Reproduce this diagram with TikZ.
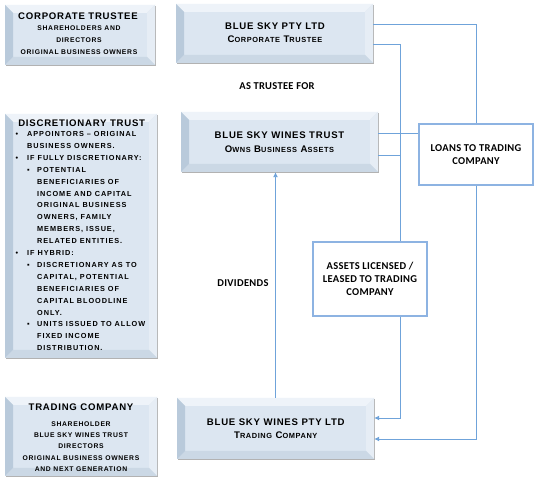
\documentclass[tikz,border=0pt]{standalone}
\usepackage{fontspec}
\setmainfont{Liberation Sans}
\newfontfamily\hfnt[LetterSpace=8]{Liberation Sans}
\newfontfamily\bfnt[LetterSpace=10]{Liberation Sans}
\newfontfamily\lfnt[LetterSpace=13]{Liberation Sans}
\newfontfamily\cfnt[LetterSpace=3]{Carlito}
\usetikzlibrary{shadows,arrows.meta}
\definecolor{bevfill}{HTML}{DCE6F1}
\definecolor{bevleft}{HTML}{B9CADB}
\definecolor{bevtop}{HTML}{EEF3F9}
\definecolor{bevright}{HTML}{E6EDF5}
\definecolor{bevbot}{HTML}{CBD8E5}
\definecolor{linec}{HTML}{6FA3DA}
\definecolor{boxline}{HTML}{8DB3E2}
\newcommand\SCx[2]{#1{\fontsize{7.4}{8}\selectfont #2}}
\tikzset{
  bevelbox/.style={fill=bevfill, draw=none, inner sep=0pt,
    drop shadow={shadow xshift=1pt, shadow yshift=-1.5pt, fill=black, opacity=0.3},
    path picture={
      \path (path picture bounding box.north west) coordinate (bNW)
            (path picture bounding box.north east) coordinate (bNE)
            (path picture bounding box.south east) coordinate (bSE)
            (path picture bounding box.south west) coordinate (bSW);
      \path ([shift={(8pt,-8pt)}]bNW) coordinate (iNW)
            ([shift={(-8pt,-8pt)}]bNE) coordinate (iNE)
            ([shift={(-8pt,8pt)}]bSE) coordinate (iSE)
            ([shift={(8pt,8pt)}]bSW) coordinate (iSW);
      \fill[bevtop] (bNW) -- (bNE) -- (iNE) -- (iNW) -- cycle;
      \fill[bevright] (bNE) -- (bSE) -- (iSE) -- (iNE) -- cycle;
      \fill[bevbot] (bSE) -- (bSW) -- (iSW) -- (iSE) -- cycle;
      \fill[bevleft] (bSW) -- (bNW) -- (iNW) -- (iSW) -- cycle;
    }},
  plainbox/.style={fill=white, draw=boxline, line width=1.2pt, inner sep=0pt,
    drop shadow={shadow xshift=1pt, shadow yshift=-1pt, fill=black, opacity=0.15}},
  hd/.style={font=\hfnt\bfseries\fontsize{9.6}{11}\selectfont, inner sep=0pt},
  bd/.style={font=\bfnt\bfseries\fontsize{6.8}{#1}\selectfont, align=center, inner sep=0pt},
  bd/.default=12,
  lst/.style={font=\lfnt\bfseries\fontsize{7.3}{11.9}\selectfont, align=left, inner sep=0pt},
  lbl/.style={font=\cfnt\bfseries\fontsize{10.5}{13}\selectfont, align=center, inner sep=0pt},
  conn/.style={draw=linec, line width=0.9pt},
  arr/.style={conn, -{Latex[length=5pt,width=5pt]}},
}
\begin{document}
\begin{tikzpicture}[x=1pt,y=-1pt]
\fill[white] (0,0) rectangle (539,481);
\useasboundingbox (0,0) rectangle (539,481);

% boxes
\node[bevelbox, minimum width=150pt, minimum height=60pt] (ct) at (80,35) {};
\node[bevelbox, minimum width=197pt, minimum height=59pt] (bsp) at (274.5,33.5) {};
\node[bevelbox, minimum width=197pt, minimum height=60pt] (bswt) at (279.5,142) {};
\node[bevelbox, minimum width=152pt, minimum height=244pt] (dt) at (81,236) {};
\node[bevelbox, minimum width=152pt, minimum height=79pt] (tc) at (81,436.5) {};
\node[bevelbox, minimum width=197pt, minimum height=61pt] (bswp) at (275.5,428.5) {};
\node[plainbox, lbl, minimum width=114pt, minimum height=61pt] (loans) at (476,154.5) {LOANS TO TRADING\\COMPANY};
\node[plainbox, lbl, minimum width=114pt, minimum height=74pt] (assets) at (370,279) {ASSETS LICENSED /\\LEASED TO TRADING\\COMPANY};

% texts
\node[hd] (ct-h) at (78,16) {CORPORATE TRUSTEE};
\node[bd] (ct-b) at (79,40.2) {SHAREHOLDERS AND\\DIRECTORS\\ORIGINAL BUSINESS OWNERS};
\node[hd] (bsp-t1) at (275,26) {BLUE SKY PTY LTD};
\node[hd] (bsp-t2) at (275,39) {\SCx{C}{ORPORATE} \SCx{T}{RUSTEE}};
\node[hd] (bswt-t1) at (279.5,135.5) {BLUE SKY WINES TRUST};
\node[hd] (bswt-t2) at (279.5,148.7) {\SCx{O}{WNS} \SCx{B}{USINESS} \SCx{A}{SSETS}};
\node[hd] (bswp-t1) at (275.8,422) {BLUE SKY WINES PTY LTD};
\node[hd] (bswp-t2) at (275.8,435) {\SCx{T}{RADING} \SCx{C}{OMPANY}};
\node[hd] (dt-h) at (81.7,123) {DISCRETIONARY TRUST};
\node[lst, anchor=north west] (dt-l) at (15.5,131.3) {%
\makebox[11.5pt][l]{•}APPOINTORS – ORIGINAL\\
\hspace*{11.5pt}BUSINESS OWNERS.\\
\makebox[11.5pt][l]{•}IF FULLY DISCRETIONARY:\\
\hspace*{11.5pt}\makebox[10pt][l]{▪}POTENTIAL\\
\hspace*{21.5pt}BENEFICIARIES OF\\
\hspace*{21.5pt}INCOME AND CAPITAL\\
\hspace*{21.5pt}ORIGINAL BUSINESS\\
\hspace*{21.5pt}OWNERS, FAMILY\\
\hspace*{21.5pt}MEMBERS, ISSUE,\\
\hspace*{21.5pt}RELATED ENTITIES.\\
\makebox[11.5pt][l]{•}IF HYBRID:\\
\hspace*{11.5pt}\makebox[10pt][l]{▪}DISCRETIONARY AS TO\\
\hspace*{21.5pt}CAPITAL, POTENTIAL\\
\hspace*{21.5pt}BENEFICIARIES OF\\
\hspace*{21.5pt}CAPITAL BLOODLINE\\
\hspace*{21.5pt}ONLY.\\
\hspace*{11.5pt}\makebox[10pt][l]{▪}UNITS ISSUED TO ALLOW\\
\hspace*{21.5pt}FIXED INCOME\\
\hspace*{21.5pt}DISTRIBUTION.};
\node[hd] (tc-h) at (81,407) {TRADING COMPANY};
\node[bd=11.4] (tc-b) at (81,446.5) {SHAREHOLDER\\BLUE SKY WINES TRUST\\DIRECTORS\\ORIGINAL BUSINESS OWNERS\\AND NEXT GENERATION};
\node[lbl] (astr) at (277,86) {AS TRUSTEE FOR};
\node[lbl] (divs) at (243,283) {DIVIDENDS};

% connectors
\coordinate (j1) at (476,24);
\coordinate (j2) at (400,44);
\coordinate (j3) at (400,133);
\coordinate (j4) at (400,155);
\coordinate (j5) at (400,418);
\coordinate (j6) at (476,439);
\draw[conn] (bsp.east |- j1) -- (j1) -- (loans.north);
\draw[conn] (bsp.east |- j2) -- (j2) -- (j2 |- assets.north);
\draw[conn] (bswt.east |- j3) -- (loans.west |- j3);
\draw[conn] (bswt.east |- j4) -- (j4);
\draw[arr] (j5 |- assets.south) -- (j5) -- (bswp.east |- j5);
\draw[arr] (loans.south) -- (j6) -- (bswp.east |- j6);
\draw[arr] (bswp.north) -- (bswp.north |- bswt.south);
\end{tikzpicture}
\end{document}
